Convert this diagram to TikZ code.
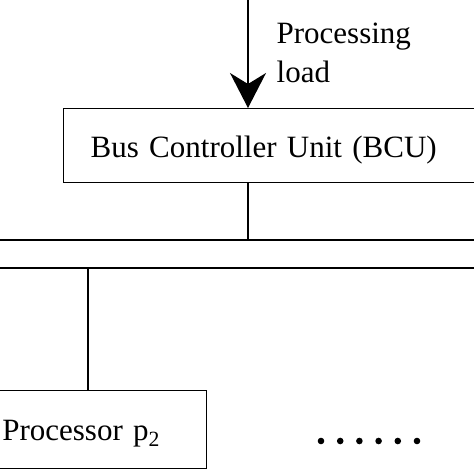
\documentclass[tikz,border=0pt]{standalone}
\usepackage{fontspec}
\setmainfont{Liberation Serif}
\usetikzlibrary{arrows.meta}

\begin{document}
\begin{tikzpicture}[x=1pt,y=1pt,yscale=-1,xscale=1,
    line width=1.3pt,
    every node/.style={font=\fontsize{31}{39}\selectfont},
    unitbox/.style={draw,rectangle,align=left,text depth=0pt}]
    \clip (0,0) rectangle (474,474);

    % Text Node
    \node (bcu) [unitbox,anchor=north west,minimum height=74,text width=420,inner xsep=27,text height=24] at (63,108) {Bus Controller Unit (BCU)};
    % Text Node
    \node (proc) [unitbox,anchor=north east,minimum height=78,text width=181,inner xsep=23,text height=22] at (207,390) {Processor p\textsubscript{2}};
    % Text Node
    \node (load) [anchor=base west,align=left,inner sep=0] at (276,82) {Processing\\load};

    \coordinate (top) at (248,0);
    \coordinate (busw) at (0,240);
    \coordinate (buse) at (474,240);
    \coordinate (busbw) at (0,268);
    \coordinate (busbe) at (474,268);
    \coordinate (tap) at (88,268);

    %Straight Lines
    \draw [-{Stealth[length=35pt,width=36pt,inset=11pt]}] (top) -- (top |- bcu.north);
    %Straight Lines
    \draw (top |- bcu.south) -- (top |- busw);
    %Straight Lines
    \draw (busw) -- (buse);
    \draw (busbw) -- (busbe);
    %Straight Lines
    \draw (tap) -- (tap |- proc.north);

    %Dots
    \foreach \i in {0,...,5}
        \fill (321+19.2*\i,441) circle (3.3);
\end{tikzpicture}
\end{document}
